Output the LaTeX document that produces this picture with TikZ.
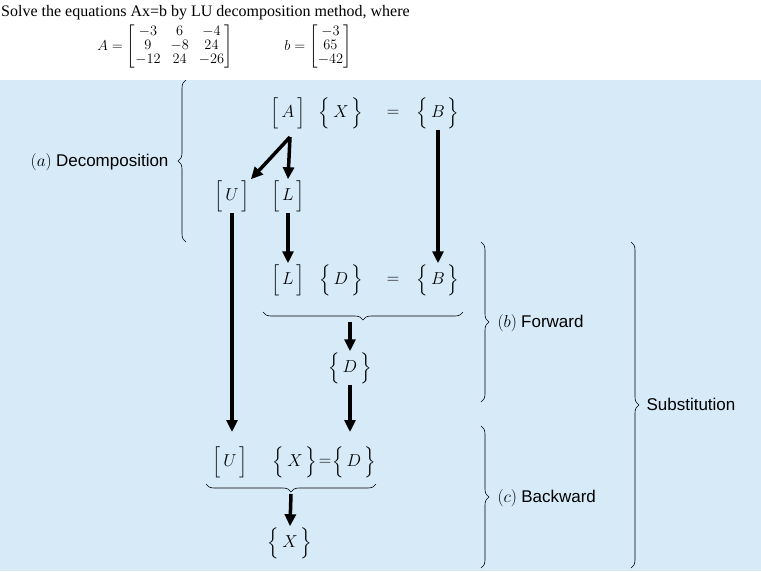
\documentclass[tikz,border=0pt]{standalone}
\usepackage{amsmath}
\usepackage{fontspec}
\setmainfont{Liberation Serif}
\setsansfont{Liberation Sans}
\usetikzlibrary{arrows.meta,decorations.pathreplacing}
\definecolor{bgblue}{HTML}{D6EAF8}
\tikzset{
  term/.style={font=\fontsize{17}{19}\selectfont, inner sep=1pt},
  flow/.style={line width=3.5pt,-{Triangle[length=12pt,width=11pt]}},
  brc/.style={decorate,decoration={brace,amplitude=8pt},line width=0.6pt},
  lbl/.style={font=\fontsize{17}{19}\selectfont\sffamily,anchor=west}
}
\begin{document}
\begin{tikzpicture}[x=1pt,y=-1pt]
\useasboundingbox (0,0) rectangle (761,571);
\fill[bgblue] (0,80) rectangle (761,571);
\node[anchor=west,font=\fontsize{16}{18}\selectfont,inner sep=1pt] (title) at (0,13) {Solve the equations Ax=b by LU decomposition method, where};
\node[font=\fontsize{14}{14}\selectfont] (Amat) at (165,47) {$A=\begin{bmatrix}-3&6&-4\\ 9&-8&24\\ -12&24&-26\end{bmatrix}$};
\node[font=\fontsize{14}{14}\selectfont] (bmat) at (318,47) {$b=\begin{bmatrix}-3\\ 65\\ -42\end{bmatrix}$};
% row 1
\node[term] (A) at (288,113) {$\Big[\,A\,\Big]$};
\node[term] (X1) at (341,113) {$\Big\{\,X\,\Big\}$};
\node[term] (eq1) at (393,113) {$=$};
\node[term] (B1) at (438,113) {$\Big\{\,B\,\Big\}$};
% row 2
\node[term] (U) at (232,196) {$\Big[\,U\,\Big]$};
\node[term] (L) at (288,196) {$\Big[\,L\,\Big]$};
% row 3
\node[term] (L2) at (288,280) {$\Big[\,L\,\Big]$};
\node[term] (D1) at (341,280) {$\Big\{\,D\,\Big\}$};
\node[term] (eq2) at (393,280) {$=$};
\node[term] (B2) at (438,280) {$\Big\{\,B\,\Big\}$};
% D
\node[term] (D2) at (350,368) {$\Big\{\,D\,\Big\}$};
% row 4
\node[term] (U2) at (230,462) {$\Big[\,U\,\Big]$};
\node[term] (X2) at (295,462) {$\Big\{\,X\,\Big\}$};
\node[term] (eq3) at (325,462) {$=$};
\node[term] (D3) at (354,462) {$\Big\{\,D\,\Big\}$};
\node[term] (X3) at (290,543) {$\Big\{\,X\,\Big\}$};
% arrows
\coordinate (Abot) at (290,137);
\coordinate (Dend) at (350,432);
\coordinate (Uend) at (232,432);
\draw[flow] (Abot) -- (U.north east);
\draw[flow] (Abot) -- (L.north);
\draw[flow] (L.south) -- (L2.north);
\draw[flow] (B1.south) -- (B2.north);
\draw[flow] (U.south) -- (Uend);
\draw[flow] (D2.south) -- (Dend);
% braces
\draw[brc] (186,242) -- (186,80);
\node[anchor=east,font=\fontsize{17}{19}\selectfont] (la) at (172,162) {$(a)$ \sffamily Decomposition};
\draw[brc] (463,312) -- (263,312);
\coordinate (bt1) at (350,322);
\draw[flow] (bt1) -- (D2.north);
\draw[brc] (376,484) -- (206,484);
\coordinate (bt2) at (291,494);
\draw[flow] (bt2) -- (X3.north);
\draw[brc] (481,242) -- (481,402);
\node[lbl] (lb) at (494,323) {\rmfamily$(b)$ \sffamily Forward};
\draw[brc] (481,426) -- (481,568);
\node[lbl] (lc) at (494,498) {\rmfamily$(c)$ \sffamily Backward};
\draw[brc] (631,242) -- (631,568);
\node[lbl] (ls) at (643,404) {Substitution};
\end{tikzpicture}
\end{document}
